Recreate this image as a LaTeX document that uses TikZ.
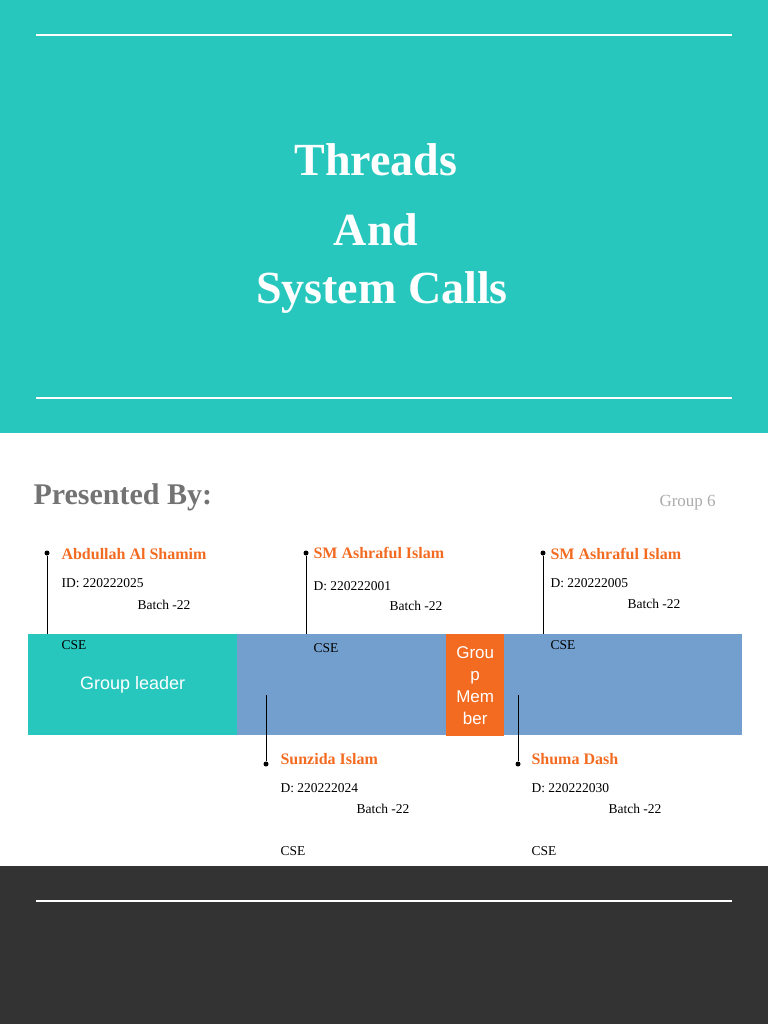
\documentclass[tikz,border=0pt]{standalone}
\usepackage{fontspec}
\setmainfont{Liberation Serif}
\setsansfont{Liberation Sans}
\begin{document}
\begin{tikzpicture}[x=1pt,y=-1pt,
  wline/.style={white,line width=2pt},
  nm/.style={anchor=west,text=orng,font=\fontsize{16}{18}\selectfont\bfseries},
  sm/.style={anchor=west,font=\fontsize{13.5}{15}\selectfont},
  pin/.style={black,line width=0.8pt},
  dotc/.style={circle,fill=black,inner sep=0pt,minimum size=5pt}]
\definecolor{teal1}{HTML}{28C7BE}
\definecolor{blu}{HTML}{739FCF}
\definecolor{orng}{HTML}{F26B21}
\definecolor{dark}{HTML}{333333}
\useasboundingbox (0,0) rectangle (768,1024);
\fill[teal1] (0,0) rectangle (768,433);
\fill[dark] (0,866) rectangle (768,1024);
\draw[wline] (36,35) -- (732,35);
\draw[wline] (36,398) -- (732,398);
\draw[wline] (36,901) -- (732,901);
\node[text=white,font=\fontsize{46}{50}\selectfont\bfseries] (t1) at (376,160) {Threads};
\node[text=white,font=\fontsize{46}{50}\selectfont\bfseries] (t2) at (376,230) {And};
\node[text=white,font=\fontsize{46}{50}\selectfont\bfseries] (t3) at (382,293) {System Calls};
\node[anchor=west,text=black!55,font=\fontsize{30}{34}\selectfont\bfseries] (pb) at (30,497) {Presented By:};
\node[anchor=west,text=black!33,font=\fontsize{17}{20}\selectfont] (g6) at (656,503) {Group 6};
\fill[blu] (28,634) rectangle (742,735);
\node[fill=teal1,minimum width=209pt,minimum height=101pt,inner sep=0pt,anchor=north west,text=white,font=\sffamily\fontsize{18}{20}\selectfont] (gl) at (28,634) {\raisebox{-2pt}{Group leader}};
\node[fill=orng,minimum width=58pt,minimum height=102pt,inner sep=0pt,anchor=north west,text=white,align=center,font=\sffamily\fontsize{17}{22}\selectfont] (gm) at (446,634) {Grou\\p\\Mem\\ber};
% pins
\node[dotc] (d1) at (47,553) {}; \coordinate (e1) at (47,634); \draw[pin] (d1) -- (e1);
\node[dotc] (d2) at (306,553) {}; \coordinate (e2) at (306,634); \draw[pin] (d2) -- (e2);
\node[dotc] (d3) at (543,553) {}; \coordinate (e3) at (543,634); \draw[pin] (d3) -- (e3);
\node[dotc] (d4) at (266,764) {}; \coordinate (e4) at (266,695); \draw[pin] (d4) -- (e4);
\node[dotc] (d5) at (518,764) {}; \coordinate (e5) at (518,695); \draw[pin] (d5) -- (e5);
% column 1
\node[nm] (n1) at (58,554) {Abdullah Al Shamim};
\node[sm] (i1) at (58,583) {ID: 220222025};
\node[sm] (b1) at (134,605) {Batch -22};
\node[sm] (c1) at (58,645) {CSE};
% column 2
\node[nm] (n2) at (310,553) {SM Ashraful Islam};
\node[sm] (i2) at (310,586) {D: 220222001};
\node[sm] (b2) at (386,606) {Batch -22};
\node[sm] (c2) at (310,648) {CSE};
% column 3
\node[nm] (n3) at (547,554) {SM Ashraful Islam};
\node[sm] (i3) at (547,583) {D: 220222005};
\node[sm] (b3) at (624,604) {Batch -22};
\node[sm] (c3) at (547,645) {CSE};
% Sunzida
\node[nm] (n4) at (277,759) {Sunzida Islam};
\node[sm] (i4) at (277,788) {D: 220222024};
\node[sm] (b4) at (353,809) {Batch -22};
\node[sm] (c4) at (277,851) {CSE};
% Shuma
\node[nm] (n5) at (528,759) {Shuma Dash};
\node[sm] (i5) at (528,788) {D: 220222030};
\node[sm] (b5) at (605,809) {Batch -22};
\node[sm] (c5) at (528,851) {CSE};
\end{tikzpicture}
\end{document}
